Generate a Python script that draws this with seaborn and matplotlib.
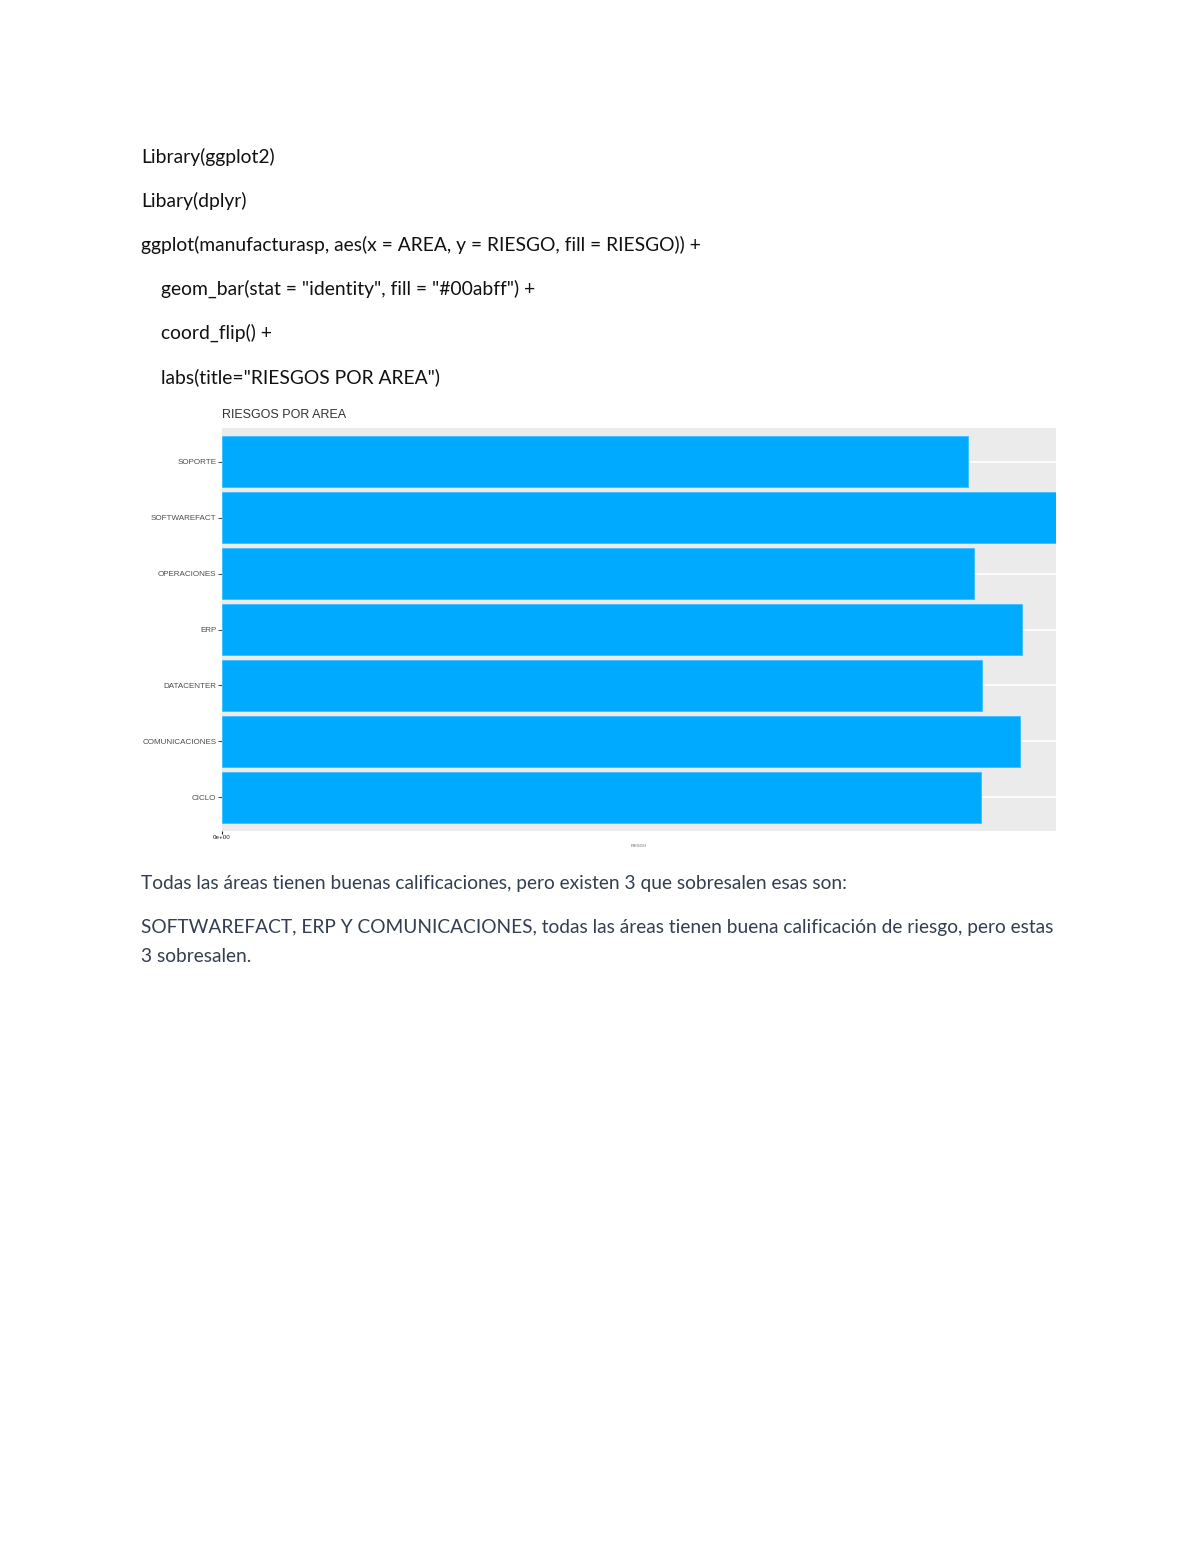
import matplotlib
matplotlib.use("Agg")
import matplotlib.pyplot as plt
import seaborn as sns
import pandas as pd

# ---- data ----
areas = ["SOPORTE", "SOFTWAREFACT", "OPERACIONES", "ERP", "DATACENTER", "COMUNICACIONES", "CICLO"]
riesgo = [746, 834, 752, 800, 760, 798, 759]
x_ticks = [0]
x_tick_labels = ["0e+00"]

code_lines = [
    "Library(ggplot2)",
    "Libary(dplyr)",
    "ggplot(manufacturasp, aes(x = AREA, y = RIESGO, fill = RIESGO)) +",
    "geom_bar(stat = \"identity\", fill = \"#00abff\") +",
    "coord_flip() +",
    "labs(title=\"RIESGOS POR AREA\")",
]
body_lines = [
    "Todas las áreas tienen buenas calificaciones, pero existen 3 que sobresalen esas son:",
    "SOFTWAREFACT, ERP Y COMUNICACIONES, todas las áreas tienen buena calificación de riesgo, pero estas",
    "3 sobresalen.",
]

df = pd.DataFrame({"AREA": areas, "RIESGO": riesgo})

sns.set_theme(style="white")
plt.rcParams["font.family"] = ["Liberation Sans", "DejaVu Sans"]

W, H = 1200, 1553
fig = plt.figure(figsize=(W / 100, H / 100), dpi=100)
fig.patch.set_facecolor("white")

def fx(px):
    return px / W

def fy(py):
    return 1 - py / H

# ---- document text ----
code_y = [157, 201, 245, 289, 333, 377]
code_x = [141, 141, 141, 161, 161, 161]
for t, x, y in zip(code_lines, code_x, code_y):
    fig.text(fx(x), fy(y), t, fontsize=13.9, family=["Lato", "DejaVu Sans"],
             color="#111111", va="center", ha="left")

body_y = [883, 927, 956]
for t, y in zip(body_lines, body_y):
    fig.text(fx(141), fy(y), t, fontsize=13.8, family=["Lato", "DejaVu Sans"],
             color="#333f50", va="center", ha="left")

# ---- chart ----
left, right, top, bottom = 222, 1056, 428, 831
ax = fig.add_axes([fx(left), fy(bottom), (right - left) / W, (bottom - top) / H])
ax.set_facecolor("#EBEBEB")
sns.barplot(data=df, x="RIESGO", y="AREA", order=areas, orient="h",
            color="#00abff", saturation=1, width=0.9, ax=ax, zorder=3)
for p in ax.patches:
    p.set_edgecolor("#3cc0ff")
    p.set_linewidth(0.6)

ax.set_xlim(0, max(riesgo))
ax.set_ylim(len(areas) - 0.4, -0.6)
ax.set_yticks(range(len(areas)))
ax.set_yticklabels(areas)
ax.set_xticks(x_ticks)
ax.set_xticklabels(x_tick_labels)
ax.grid(axis="y", color="white", linewidth=1.2, zorder=0)
ax.grid(axis="x", visible=False)
ax.set_axisbelow(True)
for s in ax.spines.values():
    s.set_visible(False)
ax.tick_params(axis="y", labelsize=5.8, colors="#4D4D4D", length=3, width=0.8, pad=1,
               left=True, labelcolor="#4D4D4D")
ax.tick_params(axis="x", labelsize=4.5, colors="#222222", length=2, width=0.8, pad=1,
               bottom=True)
ax.set_ylabel("")
ax.set_xlabel("RIESGO", fontsize=3, color="#666666", labelpad=3)

fig.text(fx(222), fy(415), "RIESGOS POR AREA", fontsize=9, color="#333333",
         va="center", ha="left")

fig.savefig("out.png", dpi=100, facecolor="white")
